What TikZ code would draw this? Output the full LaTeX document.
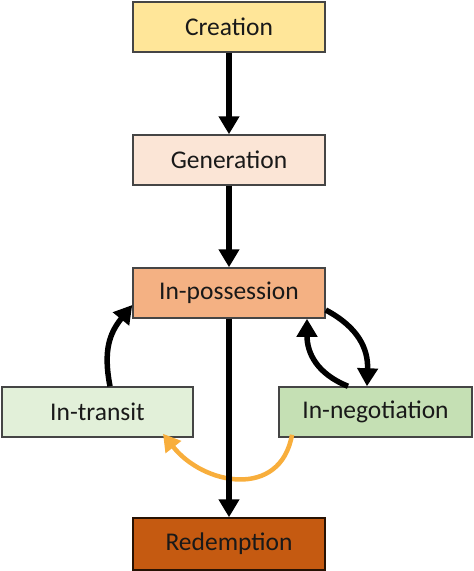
\documentclass[tikz,border=0pt]{standalone}
\usepackage{fontspec}
\setmainfont{Carlito}
\usetikzlibrary{arrows.meta}
\definecolor{cCre}{HTML}{FFE699}
\definecolor{cGen}{HTML}{FBE5D6}
\definecolor{cPos}{HTML}{F4B183}
\definecolor{cRed}{HTML}{C55A11}
\definecolor{cTra}{HTML}{E2F0D9}
\definecolor{cNeg}{HTML}{C5E0B4}
\definecolor{cBord}{HTML}{454545}
\definecolor{cOrange}{HTML}{F8AE3C}
\tikzset{
  box/.style={draw=cBord, line width=1.5pt, minimum width=192pt, minimum height=50pt,
    inner sep=0pt, font=\fontsize{25.5}{30}\selectfont, text=black!90},
  flow/.style={line width=5.5pt, -{Triangle[width=20pt,length=18pt]}},
  oflow/.style={draw=cOrange, line width=4.5pt, -{Triangle[width=19pt,length=17pt]}},
}
\begin{document}
\begin{tikzpicture}[x=1pt,y=1pt]
\useasboundingbox (0,0) rectangle (474,-571);
\node[box, fill=cCre] (cre) at (229,-27) {Creation};
\node[box, fill=cGen] (gen) at (229,-160) {Generation};
\node[box, fill=cPos] (pos) at (229,-293) {In-possession};
\node[box, fill=cRed, draw=black!80!cRed, minimum height=52pt] (red) at (229,-544) {Redemption};
\node[box, fill=cTra, minimum width=191pt] (tra) at (97.5,-412) {In-transit};
\node[box, fill=cNeg, minimum width=193pt] (neg) at (375.5,-412) {In-negotiation};

\draw[oflow] ([xshift=-83.5pt,yshift=3pt]neg.south) to[out=-100,in=-52,looseness=1.3] ([xshift=65.5pt,yshift=4pt]tra.south);

\draw[flow] (cre.south) -- (gen.north);
\draw[flow] (gen.south) -- (pos.north);
\draw[flow] (pos.south) -- (red.north);

\draw[flow] ([xshift=12.5pt]tra.north) to[out=101,in=231,looseness=1.1] ([yshift=-12pt]pos.west);
\draw[flow] ([yshift=-17pt]pos.east) to[out=-28,in=88,looseness=1.1] ([xshift=-8.5pt]neg.north);
\draw[flow] ([xshift=-27.5pt]neg.north) to[out=158,in=-90,looseness=1.1] ([xshift=78pt]pos.south);
\end{tikzpicture}
\end{document}
